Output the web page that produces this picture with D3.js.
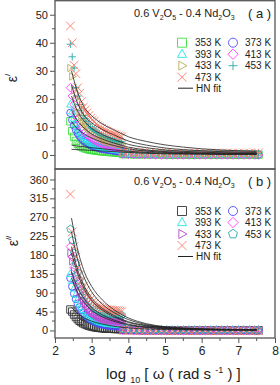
<!DOCTYPE html>
<html><head><meta charset="utf-8">
<script src="https://cdn.jsdelivr.net/npm/d3@7"></script>
<style>body{margin:0;background:#fff}svg{display:block;font-family:"Liberation Sans",Arial,sans-serif}</style>
</head><body><svg id="c" width="280" height="385"></svg>
<script>
// ---------- data ----------
const temps = ["353 K","373 K","393 K","413 K","433 K","453 K","473 K"];
const logwLow = [2.42,2.47,2.52,2.57,2.62,2.67,2.72,2.77,2.82,2.87,2.92,2.97,3.02,3.07,3.12,3.17,3.22,3.27,3.32,3.37,3.42,3.47,3.52,3.57,3.62,3.67,3.72,3.77,3.82];
const logwHigh = [3.85,4.0,4.15,4.3,4.45,4.6,4.75,4.9,5.05,5.2,5.35,5.5,5.65,5.8,5.95,6.1,6.25,6.4,6.55,6.7,6.85,7.0,7.15,7.3,7.45,7.55];
const fitX = [2.45,2.6,2.8,3.0,3.3,3.6,4.0,4.5,5.0,5.5,6.0,6.5,7.0,7.5];

// panel (a): epsilon'
const epsR_353 = [12,8.5,6.5,5,4,3.4,3,2.7,2.4,2.2,2,1.9,1.8,1.7,1.6,1.5,1.4,1.35,1.3,1.2,1.15,1.1,1.05,1,0.95,0.9,0.9,0.85,0.8];
const epsR_373 = [15,12.5,10.5,9,7.8,6.8,6,5.3,4.7,4.3,3.9,3.5,3.2,3,2.8,2.6,2.4,2.2,2.1,2,1.9,1.8,1.7,1.6,1.5,1.4,1.3,1.3,1.2];
const epsR_393 = [18,15.5,13,11,9.5,8.3,7.3,6.5,5.8,5.3,4.8,4.4,4,3.7,3.4,3.2,3,2.8,2.6,2.4,2.3,2.2,2.1,2,1.9,1.8,1.7,1.6,1.5];
const epsR_413 = [24,21,18,15,13,11.5,10,9,8,7.3,6.7,6.2,5.7,5.3,5,4.6,4.3,4,3.8,3.5,3.3,3.1,3,2.8,2.7,2.6,2.5,2.4,2.3];
const epsR_433 = [31,28,23,20,17,15,13.5,12,11,10,9.2,8.5,8,7.5,7,6.6,6.2,5.8,5.5,5.2,5,4.8,4.6,4.4,4.2,4,3.9,3.8,3.7];
const epsR_453 = [39.5,35,31,24,21,18,16,14,13,12,11,10,9.5,9,8.5,8,7.5,7,6.8,6.5,6.2,6,5.8,5.5,5.3,5.1,5,4.8,4.7];
const epsR_473 = [46,40,32,29,24,22,19,17,16,15,14,13,12.5,12,11,10.5,10,9.5,9,8.8,8.5,8,7.8,7.5,7.3,7,6.8,6.6,6.5];
const epsRHi_353 = [0.3,0.3,0.2,0.2,0.2,0.2,0.2,0.1,0.1,0.1,0.1,0.1,0.1,0.1,0.1,0.1,0.1,0.1,0.1,0.1,0.1,0.1,0.1,0.1,0.1,0.1];
const epsRHi_373 = [0.4,0.4,0.3,0.3,0.3,0.2,0.2,0.2,0.2,0.2,0.2,0.2,0.2,0.2,0.2,0.2,0.2,0.2,0.2,0.2,0.2,0.2,0.2,0.2,0.2,0.2];
const epsRHi_393 = [0.5,0.4,0.4,0.3,0.3,0.3,0.3,0.3,0.3,0.2,0.2,0.2,0.2,0.2,0.2,0.2,0.2,0.2,0.2,0.2,0.2,0.2,0.2,0.2,0.2,0.2];
const epsRHi_413 = [0.3,0.2,0.2,0.1,0.1,0.1,0.0,0.0,0.0,0.0,0.0,0.0,0.0,0.0,0.0,0.0,0.0,0.0,0.0,0.0,0.0,0.0,0.0,0.0,0.0,0.0];
const epsRHi_433 = [0.8,0.7,0.6,0.6,0.5,0.5,0.5,0.4,0.4,0.4,0.4,0.4,0.4,0.4,0.4,0.4,0.4,0.4,0.4,0.4,0.4,0.4,0.4,0.4,0.4,0.4];
const epsRHi_453 = [1.0,0.9,0.8,0.7,0.7,0.6,0.6,0.6,0.5,0.5,0.5,0.5,0.5,0.5,0.5,0.5,0.5,0.5,0.5,0.5,0.5,0.5,0.5,0.5,0.5,0.5];
const epsRHi_473 = [1.3,1.2,1.1,1.0,0.9,0.9,0.8,0.8,0.8,0.7,0.7,0.7,0.7,0.7,0.7,0.7,0.7,0.7,0.7,0.7,0.7,0.7,0.7,0.7,0.7,0.7];
const fitR_353 = [2,1.9,1.8,1.6,1.4,1.2,0.9,0.6,0.4,0.3,0.3,0.2,0.2,0.2];
const fitR_373 = [3.5,3.2,2.9,2.6,2.2,1.8,1.3,0.9,0.6,0.5,0.4,0.3,0.3,0.3];
const fitR_393 = [12,9.5,7.5,6,4.5,3.4,2.2,1.4,0.9,0.7,0.5,0.4,0.4,0.4];
const fitR_413 = [16,12.5,9.5,7.5,5.6,4.3,2.8,1.8,1.2,0.9,0.7,0.6,0.5,0.5];
const fitR_433 = [21,16,12,9.5,7.2,5.6,3.8,2.6,1.8,1.3,1.0,0.8,0.7,0.6];
const fitR_453 = [25,19,14,11.5,9,7.2,5,3.5,2.5,1.9,1.5,1.2,1.0,0.9];
const fitR_473 = [30,23,17,14,11,9,6.5,4.8,3.6,2.8,2.2,1.8,1.5,1.3];

// panel (b): epsilon''
const epsI_353 = [50,45,38,32,27,23,20,17,15,13,11.5,10,9,8,7,6.5,6,5.5,5,4.8,4.5,4.3,4,3.8,3.6,3.5,3.3,3.2,3];
const epsI_373 = [125,105,88,75,64,55,48,42,37,33,29,26,23,21,19,18,16,15,14,13,12,12,11,11,10,10,10,9,9];
const epsI_393 = [135,118,100,86,74,64,56,49,43,38,34,31,28,26,24,22,20,19,18,17,16,16,15,15,14,14,14,13,13];
const epsI_413 = [200,175,150,128,110,95,83,73,64,57,51,46,42,38,35,32,30,28,27,26,25,24,23,22,22,21,21,20,20];
const epsI_433 = [185,165,142,122,105,92,80,71,63,56,50,45,41,38,35,33,31,29,28,27,26,25,25,24,24,23,23,22,22];
const epsI_453 = [242,215,185,160,138,120,105,93,83,75,68,62,57,53,50,47,45,43,42,41,40,40,39,39,38,38,38,37,37];
const epsI_473 = [325,235,200,175,150,132,118,105,95,87,80,74,68,64,60,57,55,53,52,51,50,49,49,48,48,47,47,46,45];
const epsIHi_353 = [1,1,1,0.5,0.5,0.5,0.5,0.5,0.5,0.5,0.5,0.5,0.5,0.5,0.5,0.5,0.5,0.5,0.5,0.5,0.5,0.5,0.5,0.5,0.5,0.5];
const epsIHi_373 = [1.5,1.5,1,1,1,1,1,1,1,1,1,1,1,1,1,1,1,1,1,1,1,1,1,1,1,1];
const epsIHi_393 = [2,2,1.5,1.5,1,1,1,1,1,1,1,1,1,1,1,1,1,1,1,1,1,1,1,1,1,1];
const epsIHi_413 = [0,0,-1,-1,-1,-1,-1,-1,-1,-1,-1,-1,-1,-1,-1,-1,-1,-1,-1,-1,-1,-1,-1,-1,-1,-1];
const epsIHi_433 = [1,1,0.5,0.5,0.5,0.5,0.5,0.5,0.5,0.5,0.5,0.5,0.5,0.5,0.5,0.5,0.5,0.5,0.5,0.5,0.5,0.5,0.5,0.5,0.5,0.5];
const epsIHi_453 = [3,2.5,2,2,1.5,1.5,1.5,1.5,1.5,1.5,1.5,1.5,1.5,1.5,1.5,1.5,1.5,1.5,1.5,1.5,1.5,1.5,1.5,1.5,1.5,2];
const epsIHi_473 = [1,0.5,0,0,-0.5,-0.5,-0.5,-0.5,-0.5,-0.5,-0.5,-0.5,-0.5,-0.5,-0.5,-0.5,-0.5,-0.5,-0.5,-0.5,-0.5,-0.5,-0.5,-0.5,-0.5,-0.5];
const fitI_353 = [55,42,30,22,15,10,6,3.5,2.2,1.5,1.1,0.9,0.8,0.7];
const fitI_373 = [125,93,66,48,32,22,13,7,4.2,2.8,2,1.6,1.3,1.1];
const fitI_393 = [140,105,75,55,37,25,15,8,5,3.3,2.3,1.8,1.5,1.3];
const fitI_413 = [185,140,98,72,48,33,19,11,6,4,2.8,2.1,1.7,1.5];
const fitI_433 = [200,150,105,78,52,36,21,12,7,4.5,3,2.3,1.9,1.6];
const fitI_453 = [235,175,125,92,62,43,26,14,8,5,3.5,2.6,2.2,1.8];
const fitI_473 = [268,200,140,105,72,50,30,16,9,6,4,3,2.5,2];

const ticksA = [0,10,20,30,40,50];
const ticksB = [0,45,90,135,180,225,270,315,360];
const ticksX = [2,3,4,5,6,7,8];

// ---------- styling ----------
const shapesA = ["square","circle","triangle","diamond","rtri","plus","x"];
const shapesB = ["square","circle","triangle","diamond","rtri","pentagon","x"];
const colorsA = ["#3ee03e","#4a4aff","#22e6e6","#ff40ff","#b5ad55","#2aa8a8","#ff7a68"];
const colorsB = ["#333333","#4a4aff","#22e6e6","#ff40ff","#b04cc4","#2aa8a8","#ff7a68"];

function shapePath(s, r){
  switch(s){
    case "square": return `M${-r},${-r}h${2*r}v${2*r}h${-2*r}Z`;
    case "circle": return d3.arc()({innerRadius:0,outerRadius:r,startAngle:0,endAngle:2*Math.PI});
    case "triangle": return `M0,${-r*1.1}L${r},${r*0.7}L${-r},${r*0.7}Z`;
    case "diamond": return `M0,${-r*1.15}L${r*1.15},0L0,${r*1.15}L${-r*1.15},0Z`;
    case "rtri": return `M${-r*0.7},${-r}L${r*1.1},0L${-r*0.7},${r}Z`;
    case "plus": return `M${-r},0H${r}M0,${-r}V${r}`;
    case "x": return `M${-r},${-r}L${r},${r}M${-r},${r}L${r},${-r}`;
    case "pentagon": {
      const p=[];for(let i=0;i<5;i++){const a=-Math.PI/2+i*2*Math.PI/5;p.push([r*1.05*Math.cos(a),r*1.05*Math.sin(a)]);}
      return "M"+p.map(d=>d.join(",")).join("L")+"Z";}
  }
}

const svg = d3.select("#c");
const x = d3.scaleLinear().domain([2,8]).range([55,275]);
const L=55,R=275;

function panel(opts){
  const y = d3.scaleLinear().domain(opts.ydom).range([opts.bottom,opts.top]);
  const g = svg.append("g");
  const lows = opts.low, highs = opts.high;
  for(let s=0;s<7;s++){
    const pts = logwLow.map((w,i)=>[w,lows[s][i]]).concat(logwHigh.map((w,i)=>[w,highs[s][i]]));
    g.append("g").selectAll("path").data(pts).join("path")
      .attr("transform",d=>`translate(${x(d[0])},${y(d[1])})`)
      .attr("d",shapePath(opts.shapes[s], s===6?4.3:3.7))
      .attr("fill","none").attr("stroke",opts.colors[s]).attr("stroke-width",0.9);
  }
  const line = d3.line().x(d=>x(d[0])).y(d=>y(d[1])).curve(d3.curveMonotoneX);
  for(let s=0;s<7;s++){
    g.append("path").attr("d",line(fitX.map((w,i)=>[w,opts.fits[s][i]])))
      .attr("fill","none").attr("stroke","#222").attr("stroke-width",0.8);
  }
  svg.append("rect").attr("x",L).attr("y",opts.top).attr("width",R-L).attr("height",opts.bottom-opts.top)
    .attr("fill","none").attr("stroke","#555").attr("stroke-width",1.3);
  const ya = svg.append("g").attr("transform",`translate(${L},0)`)
    .call(d3.axisLeft(y).tickValues(opts.ticks).tickSize(5).tickPadding(2));
  ya.select(".domain").remove();
  ya.selectAll("line").attr("stroke","#555");
  ya.selectAll("text").attr("font-size",11).attr("fill","#222").attr("font-family","Liberation Sans, Arial, sans-serif");
  const minor = opts.ticks.slice(0,-1).map((t,i)=>(t+opts.ticks[i+1])/2);
  svg.append("g").selectAll("line").data(minor).join("line")
    .attr("x1",L-3).attr("x2",L).attr("y1",d=>y(d)).attr("y2",d=>y(d)).attr("stroke","#555");
  const t = svg.append("text").attr("x",134).attr("y",opts.top+16).attr("font-size",11).attr("fill","#222");
  t.append("tspan").text("0.6 V");
  t.append("tspan").text("2").attr("font-size",7).attr("dy",3);
  t.append("tspan").text("O").attr("dy",-3);
  t.append("tspan").text("5").attr("font-size",7).attr("dy",3);
  t.append("tspan").text(" - 0.4 Nd").attr("dy",-3);
  t.append("tspan").text("2").attr("font-size",7).attr("dy",3);
  t.append("tspan").text("O").attr("dy",-3);
  t.append("tspan").text("3").attr("font-size",7).attr("dy",3);
  svg.append("text").attr("x",248).attr("y",opts.top+17).attr("font-size",13).attr("fill","#222").text(opts.tag);
  const lg = svg.append("g").attr("font-size",10).attr("fill","#222");
  const rowsY = [0,11.5,23,34.5].map(v=>v+opts.legTop);
  const order = [[0,0,0],[1,1,0],[2,0,1],[3,1,1],[4,0,2],[5,1,2],[6,0,3]];
  order.forEach(([s,c,r])=>{
    const mx = c===0?182:233, tx = c===0?195:245;
    lg.append("path").attr("transform",`translate(${mx},${rowsY[r]})`).attr("d",shapePath(opts.shapes[s],4.5))
      .attr("fill","none").attr("stroke",opts.colors[s]).attr("stroke-width",0.9);
    lg.append("text").attr("x",tx).attr("y",rowsY[r]+3.5).text(temps[s]);
  });
  const hy = opts.legTop+45.5;
  lg.append("line").attr("x1",178).attr("x2",193).attr("y1",hy).attr("y2",hy).attr("stroke","#222");
  lg.append("text").attr("x",196).attr("y",hy+3.5).text("HN fit");
  const yl = svg.append("text").attr("transform",`translate(${opts.ylx},${opts.yly}) rotate(-90)`)
    .attr("font-size",14).attr("fill","#222").attr("text-anchor","middle");
  yl.append("tspan").text("ε");
  yl.append("tspan").text(opts.prime).attr("font-size",8).attr("dy",-7);
}

panel({ydom:[-5,55],top:0.7,bottom:169,ticks:ticksA,tag:"( a )",legTop:42.7,shapes:shapesA,colors:colorsA,
  low:[epsR_353,epsR_373,epsR_393,epsR_413,epsR_433,epsR_453,epsR_473],
  high:[epsRHi_353,epsRHi_373,epsRHi_393,epsRHi_413,epsRHi_433,epsRHi_453,epsRHi_473],
  fits:[fitR_353,fitR_373,fitR_393,fitR_413,fitR_433,fitR_453,fitR_473],prime:"/",ylx:17,yly:78});
panel({ydom:[-18,385],top:169,bottom:338,ticks:ticksB,tag:"( b )",legTop:211,shapes:shapesB,colors:colorsB,
  low:[epsI_353,epsI_373,epsI_393,epsI_413,epsI_433,epsI_453,epsI_473],
  high:[epsIHi_353,epsIHi_373,epsIHi_393,epsIHi_413,epsIHi_433,epsIHi_453,epsIHi_473],
  fits:[fitI_353,fitI_373,fitI_393,fitI_413,fitI_433,fitI_453,fitI_473],prime:"//",ylx:18,yly:241});

const xa = svg.append("g").attr("transform","translate(0,338)")
  .call(d3.axisBottom(x).tickValues(ticksX).tickSize(5).tickPadding(3).tickFormat(d3.format("d")));
xa.select(".domain").remove();
xa.selectAll("line").attr("stroke","#555");
xa.selectAll("text").attr("font-size",12).attr("fill","#222").attr("font-family","Liberation Sans, Arial, sans-serif");
svg.append("g").selectAll("line").data(ticksX.slice(0,-1).map(v=>v+0.5)).join("line")
  .attr("x1",d=>x(d)).attr("x2",d=>x(d)).attr("y1",338).attr("y2",341).attr("stroke","#555");

const xl = svg.append("text").attr("x",106).attr("y",379).attr("font-size",15).attr("fill","#222");
xl.append("tspan").text("log ");
xl.append("tspan").text("10").attr("font-size",9).attr("dy",4);
xl.append("tspan").text(" [ ω ( rad s ").attr("dy",-4);
xl.append("tspan").text("-1").attr("font-size",9).attr("dy",-6);
xl.append("tspan").text(" ) ]").attr("dy",6);
</script></body></html>
